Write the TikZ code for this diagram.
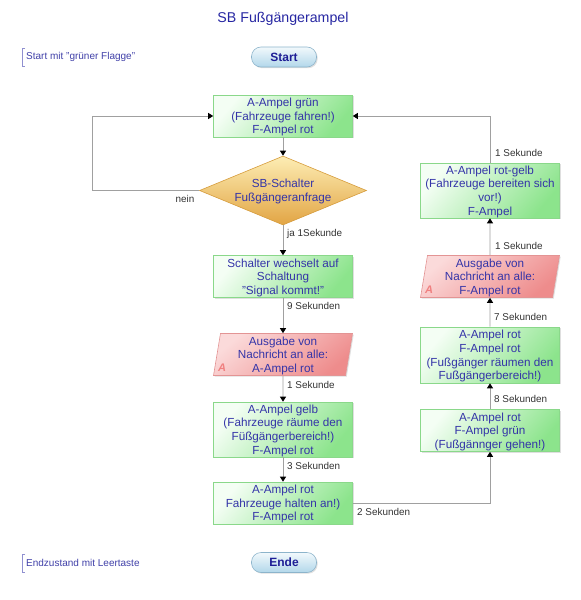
\documentclass[tikz,border=0pt]{standalone}
\usepackage{fontspec}
\setmainfont{Liberation Sans}
\usetikzlibrary{arrows.meta,shapes.geometric,shadows,calc}
\definecolor{txtblue}{HTML}{3434A8}
\definecolor{titleblue}{HTML}{2626A2}
\definecolor{annblue}{HTML}{4040A8}
\definecolor{brkblue}{HTML}{9090D0}
\definecolor{lblgray}{HTML}{333333}
\definecolor{linegray}{HTML}{A0A0A0}
\definecolor{gl}{HTML}{F4FEF4}
\definecolor{gd}{HTML}{8CE48C}
\definecolor{gb}{HTML}{8AD88A}
\definecolor{ol}{HTML}{FDEDB4}
\definecolor{od}{HTML}{E2A544}
\definecolor{ob}{HTML}{D69C3C}
\definecolor{rl}{HTML}{FBDADA}
\definecolor{rd}{HTML}{EE8C8C}
\definecolor{rb}{HTML}{E39494}
\definecolor{ra}{HTML}{F08080}
\definecolor{tl}{HTML}{F2F9FC}
\definecolor{td}{HTML}{B2D7EA}
\definecolor{tb}{HTML}{8CB4CB}
\definecolor{ttxt}{HTML}{1E1E96}
\begin{document}
\begin{tikzpicture}[x=1pt,y=-1pt,
  boxtext/.style={text=txtblue, align=center, font=\fontsize{11.7}{13.7}\selectfont},
  shad/.style={drop shadow={shadow xshift=1.2pt,shadow yshift=-1.2pt,opacity=0.25}},
  proc/.style={boxtext, rectangle, draw=gb, line width=0.6pt, top color=gl, bottom color=gd, shading angle=50,
    minimum width=139pt, minimum height=42pt, inner sep=1pt, text depth=-1.5pt, shad},
  tallproc/.style={proc, minimum height=55pt},
  decide/.style={boxtext, diamond, aspect=2.4, draw=ob, line width=0.6pt, top color=ol, bottom color=od,
    minimum width=167pt, minimum height=69pt, inner sep=0pt, text depth=-1.5pt},
  outp/.style={boxtext, trapezium, trapezium left angle=79, trapezium right angle=101, trapezium stretches body,
    draw=rb, line width=0.6pt, top color=rl, bottom color=rd, shading angle=40,
    minimum width=139pt, minimum height=42pt, inner sep=0pt, text depth=-1.5pt, shad},
  term/.style={rectangle, rounded corners=9.5pt, draw=tb, line width=0.6pt, top color=tl, bottom color=td,
    minimum width=65pt, minimum height=20pt, inner sep=0pt, text=ttxt, font=\fontsize{12}{14}\selectfont\bfseries, shad},
  lbl/.style={text=lblgray, font=\fontsize{9.9}{11}\selectfont, inner sep=0pt},
  ann/.style={text=annblue, font=\fontsize{10}{12}\selectfont, inner sep=0pt, anchor=west},
  amark/.style={text=ra, font=\fontsize{11}{12}\selectfont\bfseries\itshape, inner sep=0pt},
  conn/.style={draw=linegray, line width=0.9pt, -{Triangle[width=6pt,length=5pt,color=black]}},
  brk/.style={draw=brkblue, line width=0.6pt}
]
\useasboundingbox (0,0) rectangle (581,600);

% title
\node[text=titleblue, font=\fontsize{14.2}{16}\selectfont, inner sep=0pt] (title) at (283,19) {SB Fußgängerampel};

% annotations
\node[ann] (annstart) at (26,57) {Start mit "grüner Flagge"};
\draw[brk] (25,48) -- (22,48) -- (22,66) -- (25,66);
\node[ann] (annend) at (26,563) {Endzustand mit Leertaste};
\draw[brk] (25,554) -- (22,554) -- (22,572) -- (25,572);

% terminals
\node[term] (start) at (284,57) {Start};
\node[term] (ende) at (284,562.5) {Ende};

% left column
\node[proc] (b1) at (283,116) {A-Ampel grün\\(Fahrzeuge fahren!)\\F-Ampel rot};
\node[decide] (d) at (283,190.5) {SB-Schalter\\Fußgängeranfrage};
\node[proc] (b2) at (283,276.5) {Schalter wechselt auf\\Schaltung\\"Signal kommt!"};
\node[outp] (p1) at (283,354.5) {Ausgabe von\\Nachricht an alle:\\A-Ampel rot};
\node[amark] (a1) at ($(p1.bottom left corner)+(9,-8)$) {A};
\node[tallproc] (b3) at (283,429.5) {A-Ampel gelb\\(Fahrzeuge räume den\\Füßgängerbereich!)\\F-Ampel rot};
\node[proc] (b4) at (283,503) {A-Ampel rot\\Fahrzeuge halten an!)\\F-Ampel rot};

% right column
\node[proc] (r1) at (490,430.5) {A-Ampel rot\\F-Ampel grün\\(Fußgännger gehen!)};
\node[tallproc, minimum height=56pt] (r2) at (490,355) {A-Ampel rot\\F-Ampel rot\\(Fußgänger räumen den\\Fußgängerbereich!)};
\node[outp] (p2) at (490,276.5) {Ausgabe von\\Nachricht an alle:\\F-Ampel rot};
\node[amark] (a2) at ($(p2.bottom left corner)+(9,-8)$) {A};
\node[tallproc] (r3) at (490,190.5) {A-Ampel rot-gelb\\(Fahrzeuge bereiten sich\\vor!)\\F-Ampel};

% connectors
\coordinate (lx) at (92,0);
\draw[conn] (b1) -- (d);
\draw[conn] (d.west) -- (d.west -| lx) |- (b1.west);
\draw[conn] (d) -- (b2);
\draw[conn] (b2) -- (p1);
\draw[conn] (p1) -- (b3);
\draw[conn] (b3) -- (b4);
\draw[conn] (b4.east) -| (r1.south);
\draw[conn] (r1) -- (r2);
\draw[conn] (r2) -- (p2);
\draw[conn] (p2) -- (r3);
\draw[conn] (r3.north) |- (b1.east);

% connector labels
\node[lbl] (lnein) at (185,199) {nein};
\node[lbl, anchor=west] (lja) at (287,234) {ja 1Sekunde};
\node[lbl, anchor=west] (l9) at (287,306) {9 Sekunden};
\node[lbl, anchor=west] (l1a) at (287,385) {1 Sekunde};
\node[lbl, anchor=west] (l3) at (287,466) {3 Sekunden};
\node[lbl, anchor=west] (l2) at (357,512) {2 Sekunden};
\node[lbl, anchor=west] (l8) at (494,399) {8 Sekunden};
\node[lbl, anchor=west] (l7) at (494,317) {7 Sekunden};
\node[lbl, anchor=west] (l1b) at (495,245.5) {1 Sekunde};
\node[lbl, anchor=west] (l1c) at (495,153) {1 Sekunde};
\end{tikzpicture}
\end{document}
